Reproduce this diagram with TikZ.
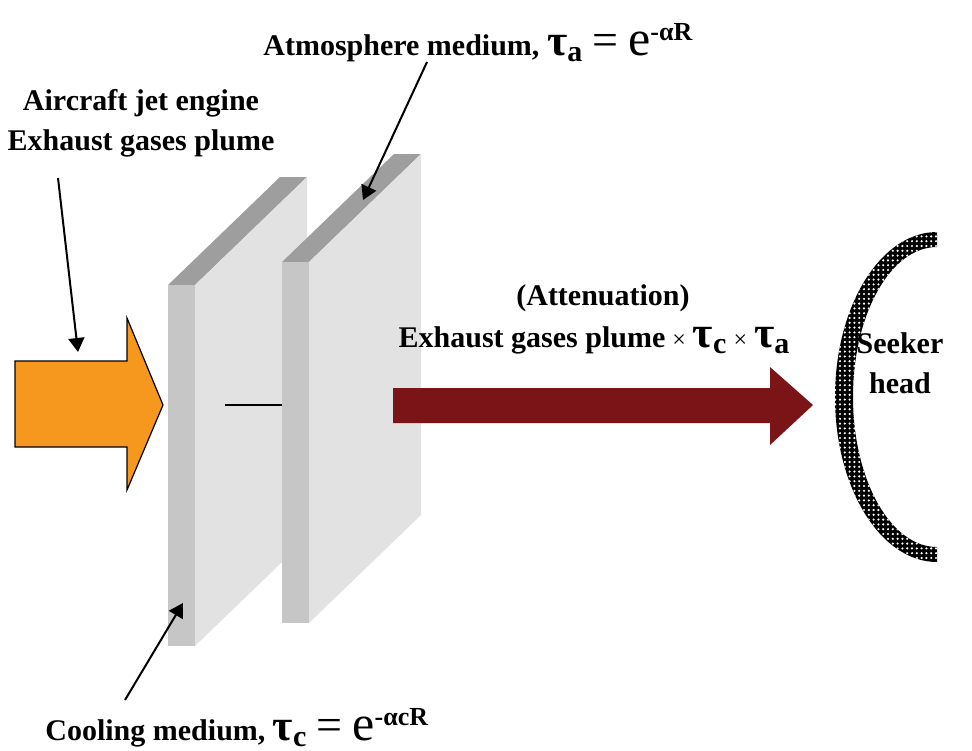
\documentclass[tikz,border=0pt]{standalone}
\usepackage{fontspec}
\setmainfont{Liberation Serif}
\usetikzlibrary{arrows.meta,patterns.meta}

\definecolor{platelight}{RGB}{226,226,226}
\definecolor{platemid}{RGB}{198,198,198}
\definecolor{platedark}{RGB}{158,158,158}
\definecolor{plumeorange}{RGB}{247,152,30}
\definecolor{beamred}{RGB}{122,20,22}

\newcommand{\tausub}[1]{{\fontsize{22}{22}\selectfont τ}\raisebox{-3pt}{\fontsize{15}{15}\selectfont #1}}
\newcommand{\eexp}[1]{{\fontsize{25}{25}\selectfont\mdseries e}\raisebox{7.5pt}{\fontsize{13}{13}\selectfont #1}}
\newcommand{\eqsign}{\hspace{5pt}{\fontsize{23}{23}\selectfont\mdseries =}\hspace{5pt}}
\newcommand{\timessign}{\hspace{3.5pt}{\fontsize{12}{12}\selectfont\mdseries ×}\hspace{3.5pt}}

\begin{document}
\begin{tikzpicture}[
  x=0.5pt,
  y=-0.5pt,
  >={Triangle[length=7pt,width=8pt]},
  every node/.style={font=\bfseries\fontsize{15}{20}\selectfont, inner sep=0pt},
  pointer/.style={->, line width=1pt},
  seeker/.style={preaction={fill=black}, pattern={Dots[distance=2.4pt,radius=0.6pt]}, pattern color=white}
]
\useasboundingbox (0,0) rectangle (972,750);

% the two media
\foreach \px/\py in {168/285, 282/262} {
  \fill[platedark] (\px,\py) -- ++(27,0) -- ++(112,-108) -- ++(-27,0) -- cycle;
  \fill[platelight] (\px+27,\py) -- ++(112,-108) -- ++(0,361) -- ++(-112,108) -- cycle;
  \fill[platemid] (\px,\py) rectangle ++(27,361);
}
\coordinate (gapl) at (225,405);
\coordinate (gapr) at (282,405);
\draw[line width=0.8pt] (gapl) -- (gapr);

% plume and attenuated beam
\draw[fill=plumeorange, line width=0.6pt] (15,361) -- (127,361) -- (127,318) -- (163,405)
  -- (127,490) -- (127,447) -- (15,447) -- cycle;
\fill[beamred] (393,388) -- (770,388) -- (770,367) -- (813,405) -- (770,445) -- (770,423)
  -- (393,423) -- cycle;

% seeker
\path[seeker] (937,232) arc[start angle=270, end angle=90, x radius=102, y radius=165]
  -- (937,547) arc[start angle=90, end angle=270, x radius=84, y radius=150] -- cycle;

\node[align=center] (engine) at (141,123) {Aircraft jet engine\\Exhaust gases plume};
\node[anchor=base west] (atmos) at (263,55) {Atmosphere medium, \tausub{a}\eqsign\eexp{-αR}};
\node[anchor=base] (atten) at (603,305) {(Attenuation)};
\node[anchor=base] (product) at (594,347) {Exhaust gases plume\timessign\tausub{c}\timessign\tausub{a}};
\node[anchor=base west] (cool) at (45,740) {Cooling medium, \tausub{c}\eqsign\eexp{-αcR}};
\node[align=center] (head) at (900,363) {Seeker\\head};

\coordinate (p1) at (58,178);
\coordinate (q1) at (78,352);
\coordinate (p2) at (427,62);
\coordinate (q2) at (363,200);
\coordinate (p3) at (125,700);
\coordinate (q3) at (183,603);
\draw[pointer] (p1) -- (q1);
\draw[pointer] (p2) -- (q2);
\draw[pointer] (p3) -- (q3);
\end{tikzpicture}
\end{document}
